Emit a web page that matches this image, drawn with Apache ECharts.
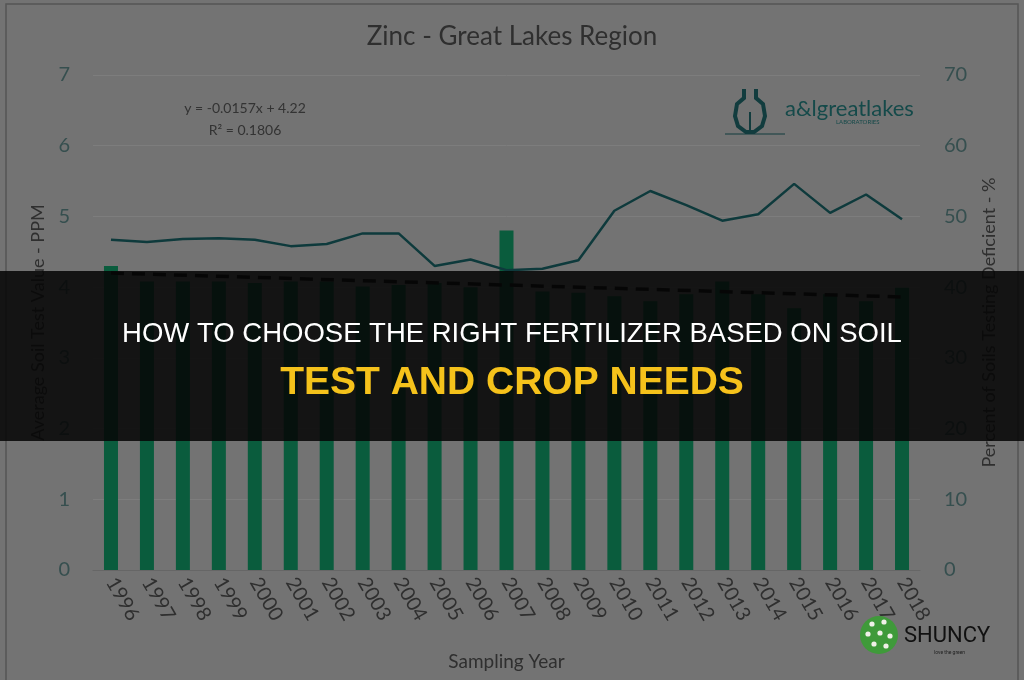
<!DOCTYPE html>
<html>
<head>
<meta charset="utf-8">
<script src="https://cdn.jsdelivr.net/npm/echarts@6/dist/echarts.min.js"></script>
<style>
  html, body { margin: 0; padding: 0; background: #737373; }
  #chart { width: 1024px; height: 680px; }
</style>
</head>
<body>
<div id="chart"></div>
<script>
// --- data ---
var years = ['1996', '1997', '1998', '1999', '2000', '2001', '2002', '2003', '2004', '2005', '2006', '2007',
             '2008', '2009', '2010', '2011', '2012', '2013', '2014', '2015', '2016', '2017', '2018'];
var avgPpm = [4.30, 4.08, 4.08, 4.08, 4.06, 4.08, 4.08, 4.01, 4.03, 4.06, 4.00, 4.80,
              3.94, 3.92, 3.87, 3.80, 3.90, 4.08, 3.90, 3.70, 3.90, 3.80, 3.99];
var pctDeficient = [46.7, 46.4, 46.8, 46.9, 46.7, 45.8, 46.1, 47.6, 47.6, 43.0, 43.9, 42.4,
                    42.6, 43.8, 50.8, 53.6, 51.6, 49.4, 50.3, 54.6, 50.5, 53.1, 49.6];
var trendEnds = [4.20, 3.86];   // linear fit at first and last year
var ppmAxis = { min: 0, max: 7, step: 1 };
var pctAxis = { min: 0, max: 70, step: 10 };
var equationLines = ['y = -0.0157x + 4.22', 'R\u00b2 = 0.1806'];
var headline = ['HOW TO CHOOSE THE RIGHT FERTILIZER BASED ON SOIL', 'TEST AND CROP NEEDS'];

var barColor = '#0a5c3d';
var lineColor = '#0e3a3c';
var ink = '#2f2f2f';
var tickInk = '#364f4f';
var gridCol = '#7d7d7d';
var logoInk = '#123c3e';

// little white leaves on the green badge
var leaves = [[872, 624], [884, 622], [868, 634], [880, 633], [890, 636], [874, 644], [886, 646]].map(function(p) {
  return { type: 'circle', shape: { cx: p[0], cy: p[1], r: 2.6 }, style: { fill: '#f0f0e8' }, z: 21 };
});

var chart = echarts.init(document.getElementById('chart'), null, { renderer: 'canvas' });
chart.setOption({
  animation: false,
  backgroundColor: '#737373',
  textStyle: { fontFamily: 'Lato' },
  title: {
    text: 'Zinc - Great Lakes Region',
    left: 'center',
    top: 19,
    textStyle: { fontFamily: 'Lato', fontSize: 26, fontWeight: 'normal', color: ink }
  },
  grid: { left: 93, right: 104, top: 75, bottom: 110 },
  xAxis: {
    type: 'category',
    data: years,
    name: 'Sampling Year',
    nameLocation: 'middle',
    nameGap: 82,
    nameTextStyle: { fontSize: 19, color: ink },
    axisLine: { lineStyle: { color: '#666' } },
    axisTick: { show: false },
    axisLabel: { rotate: -60, fontSize: 20, color: ink, margin: 9, interval: 0 }
  },
  yAxis: [
    {
      type: 'value',
      min: ppmAxis.min, max: ppmAxis.max, interval: ppmAxis.step,
      name: 'Average Soil Test Value - PPM',
      nameLocation: 'middle',
      nameGap: 46,
      nameTextStyle: { fontSize: 18, color: ink },
      axisLine: { show: false },
      axisTick: { show: false },
      splitLine: { lineStyle: { color: gridCol, width: 1 } },
      axisLabel: { fontSize: 20, color: tickInk, margin: 23 }
    },
    {
      type: 'value',
      min: pctAxis.min, max: pctAxis.max, interval: pctAxis.step,
      name: 'Percent of Soils Testing Deficient - %',
      nameLocation: 'middle',
      nameGap: 60,
      nameRotate: 90,
      nameTextStyle: { fontSize: 18, color: ink },
      axisLine: { show: false },
      axisTick: { show: false },
      splitLine: { show: false },
      axisLabel: { fontSize: 20, color: tickInk, margin: 24 }
    }
  ],
  series: [
    {
      name: 'Average PPM',
      type: 'bar',
      yAxisIndex: 0,
      data: avgPpm,
      barWidth: 14,
      itemStyle: { color: barColor },
      markLine: {
        silent: true,
        symbol: ['none', 'none'],
        label: { show: false },
        lineStyle: { color: '#0d0d0d', width: 3.5, type: [13, 8] },
        data: [[
          { coord: [years[0], trendEnds[0]] },
          { coord: [years[years.length - 1], trendEnds[1]] }
        ]]
      }
    },
    {
      name: 'Percent deficient',
      type: 'line',
      yAxisIndex: 1,
      data: pctDeficient,
      symbol: 'none',
      z: 5,
      lineStyle: { color: lineColor, width: 2.5 }
    }
  ],
  graphic: [
    // frame
    { type: 'rect', shape: { x: 6, y: 4, width: 1012, height: 700 }, style: { fill: 'none', stroke: '#555', lineWidth: 1.5 }, z: 1 },
    // trend equation
    { type: 'text', x: 245, y: 108, style: { text: equationLines[0], fontFamily: 'Lato', fontSize: 14, fill: '#333', align: 'center', verticalAlign: 'middle' }, z: 10 },
    { type: 'text', x: 245, y: 130, style: { text: equationLines[1], fontFamily: 'Lato', fontSize: 14, fill: '#333', align: 'center', verticalAlign: 'middle' }, z: 10 },
    // lab logo
    { type: 'polyline', shape: { points: [[744, 89], [744, 98], [737, 104], [735, 116], [738, 126], [746, 132], [750, 132]] }, style: { fill: 'none', stroke: logoInk, lineWidth: 4 }, z: 10 },
    { type: 'polyline', shape: { points: [[756, 89], [756, 98], [763, 104], [765, 116], [762, 126], [754, 132], [750, 132]] }, style: { fill: 'none', stroke: logoInk, lineWidth: 4 }, z: 10 },
    { type: 'line', shape: { x1: 725, y1: 134, x2: 785, y2: 134 }, style: { stroke: logoInk, lineWidth: 1.2 }, z: 10 },
    { type: 'line', shape: { x1: 750, y1: 112, x2: 750, y2: 134 }, style: { stroke: logoInk, lineWidth: 2 }, z: 10 },
    { type: 'text', x: 785, y: 109, style: { text: 'a&lgreatlakes', fontFamily: 'Lato', fontSize: 22, fill: '#154a4a', verticalAlign: 'middle' }, z: 10 },
    { type: 'text', x: 836, y: 122, style: { text: 'LABORATORIES', fontFamily: 'Lato', fontSize: 6, fill: '#154a4a', verticalAlign: 'middle' }, z: 10 },
    // dark banner
    { type: 'rect', shape: { x: 0, y: 271, width: 1024, height: 170 }, style: { fill: 'rgba(6,6,6,0.87)' }, z: 100 },
    { type: 'text', x: 512, y: 334, style: { text: headline[0], fontFamily: 'Liberation Sans', fontSize: 27.5, fill: '#ffffff', align: 'center', verticalAlign: 'middle' }, z: 101 },
    { type: 'text', x: 512, y: 383, style: { text: headline[1], fontFamily: 'Liberation Sans', fontSize: 39, fontWeight: 'bold', fill: '#f5c21b', align: 'center', verticalAlign: 'middle' }, z: 101 },
    // SHUNCY logo
    { type: 'circle', shape: { cx: 879, cy: 635, r: 19 }, style: { fill: '#3f9a3a' }, z: 20 }
  ].concat(leaves).concat([
    { type: 'text', x: 904, y: 636, style: { text: 'SHUNCY', fontFamily: 'Roboto', fontSize: 22, fill: '#111', verticalAlign: 'middle' }, z: 20 },
    { type: 'text', x: 934, y: 650, style: { text: 'love the green', fontFamily: 'Roboto', fontSize: 5, fill: '#222' }, z: 20 }
  ])
});
</script>
</body>
</html>
